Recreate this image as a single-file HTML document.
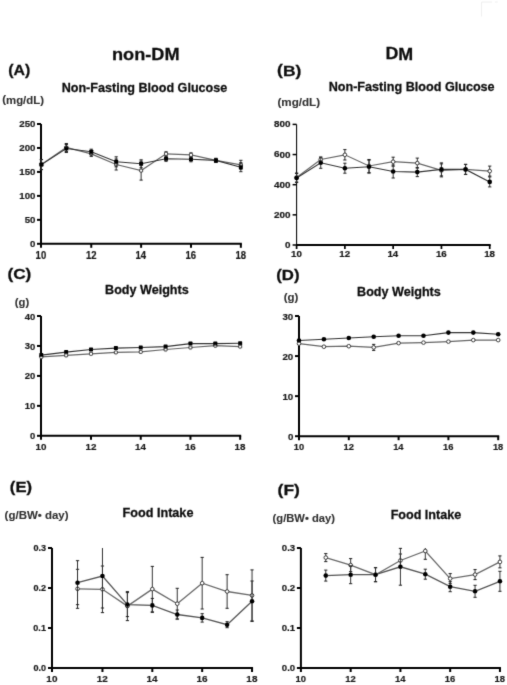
<!DOCTYPE html>
<html><head><meta charset="utf-8"><title>Figure</title>
<style>
html,body{margin:0;padding:0;background:#fff;}
body{width:507px;height:685px;overflow:hidden;}
svg{display:block;}
text{font-family:"Liberation Sans",Arial,sans-serif;}
</style></head><body>
<svg width="507" height="685" viewBox="0 0 507 685">
<defs><filter id="soft" filterUnits="userSpaceOnUse" x="0" y="0" width="507" height="685"><feConvolveMatrix order="3" kernelMatrix="0.01134 0.08382 0.01134 0.08382 0.61935 0.08382 0.01134 0.08382 0.01134" edgeMode="none"/></filter></defs>
<rect width="507" height="685" fill="#fff"/>
<g filter="url(#soft)">
<text transform="rotate(0.02 112.00 60.00)" x="112.00" y="60.00" font-size="17.30" font-weight="bold" fill="#111" stroke="#111" stroke-width="0.3" textLength="67.61" lengthAdjust="spacingAndGlyphs" >non-DM</text>
<text transform="rotate(0.02 385.40 59.50)" x="385.40" y="59.50" font-size="17.00" font-weight="bold" fill="#111" stroke="#111" stroke-width="0.3" textLength="27.80" lengthAdjust="spacingAndGlyphs" >DM</text>
<text transform="rotate(0.02 8.30 75.00)" x="8.30" y="75.00" font-size="15.30" font-weight="bold" fill="#111" stroke="#111" stroke-width="0.3" textLength="22.09" lengthAdjust="spacingAndGlyphs" >(A)</text>
<text transform="rotate(0.02 277.13 75.50)" x="277.13" y="75.50" font-size="15.30" font-weight="bold" fill="#111" stroke="#111" stroke-width="0.3" textLength="24.25" lengthAdjust="spacingAndGlyphs" >(B)</text>
<text transform="rotate(0.02 7.44 279.00)" x="7.44" y="279.00" font-size="15.30" font-weight="bold" fill="#111" stroke="#111" stroke-width="0.3" textLength="23.93" lengthAdjust="spacingAndGlyphs" >(C)</text>
<text transform="rotate(0.02 276.26 279.50)" x="276.26" y="279.50" font-size="15.30" font-weight="bold" fill="#111" stroke="#111" stroke-width="0.3" textLength="23.28" lengthAdjust="spacingAndGlyphs" >(D)</text>
<text transform="rotate(0.02 9.87 492.00)" x="9.87" y="492.00" font-size="15.30" font-weight="bold" fill="#111" stroke="#111" stroke-width="0.3" textLength="22.16" lengthAdjust="spacingAndGlyphs" >(E)</text>
<text transform="rotate(0.02 277.63 495.00)" x="277.63" y="495.00" font-size="15.30" font-weight="bold" fill="#111" stroke="#111" stroke-width="0.3" textLength="22.24" lengthAdjust="spacingAndGlyphs" >(F)</text>
<text transform="rotate(0.02 61.66 92.20)" x="61.66" y="92.20" font-size="13.00" font-weight="bold" fill="#111" stroke="#111" stroke-width="0.3" textLength="165.58" lengthAdjust="spacingAndGlyphs" >Non-Fasting Blood Glucose</text>
<text transform="rotate(0.02 328.66 91.20)" x="328.66" y="91.20" font-size="13.00" font-weight="bold" fill="#111" stroke="#111" stroke-width="0.3" textLength="165.98" lengthAdjust="spacingAndGlyphs" >Non-Fasting Blood Glucose</text>
<text transform="rotate(0.02 105.06 293.80)" x="105.06" y="293.80" font-size="13.00" font-weight="bold" fill="#111" stroke="#111" stroke-width="0.3" textLength="83.66" lengthAdjust="spacingAndGlyphs" >Body Weights</text>
<text transform="rotate(0.02 357.06 296.20)" x="357.06" y="296.20" font-size="13.00" font-weight="bold" fill="#111" stroke="#111" stroke-width="0.3" textLength="83.77" lengthAdjust="spacingAndGlyphs" >Body Weights</text>
<text transform="rotate(0.02 122.55 517.10)" x="122.55" y="517.10" font-size="12.70" font-weight="bold" fill="#111" stroke="#111" stroke-width="0.3" textLength="70.88" lengthAdjust="spacingAndGlyphs" >Food Intake</text>
<text transform="rotate(0.02 390.66 518.60)" x="390.66" y="518.60" font-size="12.70" font-weight="bold" fill="#111" stroke="#111" stroke-width="0.3" textLength="70.57" lengthAdjust="spacingAndGlyphs" >Food Intake</text>
<text transform="rotate(0.02 2.23 103.50)" x="2.23" y="103.50" font-size="11.50" font-weight="bold" fill="#333" stroke="#333" stroke-width="0.1" textLength="41.73" lengthAdjust="spacingAndGlyphs" >(mg/dL)</text>
<text transform="rotate(0.02 277.42 106.00)" x="277.42" y="106.00" font-size="11.00" font-weight="bold" fill="#333" stroke="#333" stroke-width="0.1" textLength="42.66" lengthAdjust="spacingAndGlyphs" >(mg/dL)</text>
<text transform="rotate(0.02 14.84 306.00)" x="14.84" y="306.00" font-size="11.30" font-weight="bold" fill="#333" stroke="#333" stroke-width="0.1" textLength="14.43" lengthAdjust="spacingAndGlyphs" >(g)</text>
<text transform="rotate(0.02 283.73 301.00)" x="283.73" y="301.00" font-size="10.80" font-weight="bold" fill="#333" stroke="#333" stroke-width="0.1" textLength="14.65" lengthAdjust="spacingAndGlyphs" >(g)</text>
<text transform="rotate(0.02 4.63 519.20)" x="4.63" y="519.20" font-size="10.40" font-weight="bold" fill="#333" stroke="#333" stroke-width="0.1" textLength="63.95" lengthAdjust="spacingAndGlyphs" >(g/BW• day)</text>
<text transform="rotate(0.02 272.64 521.90)" x="272.64" y="521.90" font-size="10.40" font-weight="bold" fill="#333" stroke="#333" stroke-width="0.1" textLength="62.32" lengthAdjust="spacingAndGlyphs" >(g/BW• day)</text>
<line x1="41.0" y1="124.0" x2="41.0" y2="243.8" stroke="#000" stroke-width="2"/>
<line x1="40.0" y1="243.8" x2="241.84" y2="243.8" stroke="#000" stroke-width="2"/>
<line x1="37.0" y1="243.8" x2="41.0" y2="243.8" stroke="#000" stroke-width="2"/>
<line x1="37.0" y1="219.84" x2="41.0" y2="219.84" stroke="#000" stroke-width="2"/>
<line x1="37.0" y1="195.88" x2="41.0" y2="195.88" stroke="#000" stroke-width="2"/>
<line x1="37.0" y1="171.92000000000002" x2="41.0" y2="171.92000000000002" stroke="#000" stroke-width="2"/>
<line x1="37.0" y1="147.95999999999998" x2="41.0" y2="147.95999999999998" stroke="#000" stroke-width="2"/>
<line x1="37.0" y1="124.0" x2="41.0" y2="124.0" stroke="#000" stroke-width="2"/>
<line x1="41.0" y1="243.8" x2="41.0" y2="247.8" stroke="#000" stroke-width="2"/>
<line x1="91.25999999999999" y1="243.8" x2="91.25999999999999" y2="247.8" stroke="#000" stroke-width="2"/>
<line x1="141.12" y1="243.8" x2="141.12" y2="247.8" stroke="#000" stroke-width="2"/>
<line x1="190.98" y1="243.8" x2="190.98" y2="247.8" stroke="#000" stroke-width="2"/>
<line x1="240.84" y1="243.8" x2="240.84" y2="247.8" stroke="#000" stroke-width="2"/>
<text transform="rotate(0.02 30.03 247.25)" x="30.03" y="247.25" font-size="9.60" font-weight="bold" fill="#1a1a1a" stroke="#1a1a1a" stroke-width="0.2" textLength="5.37" lengthAdjust="spacingAndGlyphs" >0</text>
<text transform="rotate(0.02 24.66 223.29)" x="24.66" y="223.29" font-size="9.60" font-weight="bold" fill="#1a1a1a" stroke="#1a1a1a" stroke-width="0.2" textLength="10.74" lengthAdjust="spacingAndGlyphs" >50</text>
<text transform="rotate(0.02 19.29 199.33)" x="19.29" y="199.33" font-size="9.60" font-weight="bold" fill="#1a1a1a" stroke="#1a1a1a" stroke-width="0.2" textLength="16.11" lengthAdjust="spacingAndGlyphs" >100</text>
<text transform="rotate(0.02 19.29 175.37)" x="19.29" y="175.37" font-size="9.60" font-weight="bold" fill="#1a1a1a" stroke="#1a1a1a" stroke-width="0.2" textLength="16.11" lengthAdjust="spacingAndGlyphs" >150</text>
<text transform="rotate(0.02 19.29 151.41)" x="19.29" y="151.41" font-size="9.60" font-weight="bold" fill="#1a1a1a" stroke="#1a1a1a" stroke-width="0.2" textLength="16.11" lengthAdjust="spacingAndGlyphs" >200</text>
<text transform="rotate(0.02 19.29 127.45)" x="19.29" y="127.45" font-size="9.60" font-weight="bold" fill="#1a1a1a" stroke="#1a1a1a" stroke-width="0.2" textLength="16.11" lengthAdjust="spacingAndGlyphs" >250</text>
<text transform="rotate(0.02 35.62 258.60)" x="35.62" y="258.60" font-size="10.00" font-weight="bold" fill="#1a1a1a" stroke="#1a1a1a" stroke-width="0.2" textLength="10.54" lengthAdjust="spacingAndGlyphs" >10</text>
<text transform="rotate(0.02 85.88 258.60)" x="85.88" y="258.60" font-size="10.00" font-weight="bold" fill="#1a1a1a" stroke="#1a1a1a" stroke-width="0.2" textLength="10.54" lengthAdjust="spacingAndGlyphs" >12</text>
<text transform="rotate(0.02 135.57 258.60)" x="135.57" y="258.60" font-size="10.00" font-weight="bold" fill="#1a1a1a" stroke="#1a1a1a" stroke-width="0.2" textLength="10.54" lengthAdjust="spacingAndGlyphs" >14</text>
<text transform="rotate(0.02 185.58 258.60)" x="185.58" y="258.60" font-size="10.00" font-weight="bold" fill="#1a1a1a" stroke="#1a1a1a" stroke-width="0.2" textLength="10.54" lengthAdjust="spacingAndGlyphs" >16</text>
<text transform="rotate(0.02 235.42 258.60)" x="235.42" y="258.60" font-size="10.00" font-weight="bold" fill="#1a1a1a" stroke="#1a1a1a" stroke-width="0.2" textLength="10.54" lengthAdjust="spacingAndGlyphs" >18</text>
<polyline points="41.40,164.60 66.33,147.50 91.26,153.90 116.19,164.50 141.12,170.60 166.05,153.80 190.98,154.90 215.91,160.40 240.84,164.80" fill="none" stroke="#666" stroke-width="1.2"/>
<line x1="41.40" y1="159.60" x2="41.40" y2="169.60" stroke="#333" stroke-width="1"/>
<line x1="39.80" y1="159.60" x2="43.00" y2="159.60" stroke="#222" stroke-width="1"/>
<line x1="39.80" y1="169.60" x2="43.00" y2="169.60" stroke="#222" stroke-width="1"/>
<line x1="66.33" y1="143.50" x2="66.33" y2="151.50" stroke="#333" stroke-width="1"/>
<line x1="64.73" y1="143.50" x2="67.93" y2="143.50" stroke="#222" stroke-width="1"/>
<line x1="64.73" y1="151.50" x2="67.93" y2="151.50" stroke="#222" stroke-width="1"/>
<line x1="91.26" y1="151.40" x2="91.26" y2="156.40" stroke="#333" stroke-width="1"/>
<line x1="89.66" y1="151.40" x2="92.86" y2="151.40" stroke="#222" stroke-width="1"/>
<line x1="89.66" y1="156.40" x2="92.86" y2="156.40" stroke="#222" stroke-width="1"/>
<line x1="116.19" y1="159.00" x2="116.19" y2="170.00" stroke="#333" stroke-width="1"/>
<line x1="114.59" y1="159.00" x2="117.79" y2="159.00" stroke="#222" stroke-width="1"/>
<line x1="114.59" y1="170.00" x2="117.79" y2="170.00" stroke="#222" stroke-width="1"/>
<line x1="141.12" y1="161.10" x2="141.12" y2="180.10" stroke="#333" stroke-width="1"/>
<line x1="139.52" y1="161.10" x2="142.72" y2="161.10" stroke="#222" stroke-width="1"/>
<line x1="139.52" y1="180.10" x2="142.72" y2="180.10" stroke="#222" stroke-width="1"/>
<line x1="166.05" y1="151.80" x2="166.05" y2="155.80" stroke="#333" stroke-width="1"/>
<line x1="164.45" y1="151.80" x2="167.65" y2="151.80" stroke="#222" stroke-width="1"/>
<line x1="164.45" y1="155.80" x2="167.65" y2="155.80" stroke="#222" stroke-width="1"/>
<line x1="190.98" y1="152.90" x2="190.98" y2="156.90" stroke="#333" stroke-width="1"/>
<line x1="189.38" y1="152.90" x2="192.58" y2="152.90" stroke="#222" stroke-width="1"/>
<line x1="189.38" y1="156.90" x2="192.58" y2="156.90" stroke="#222" stroke-width="1"/>
<line x1="215.91" y1="158.40" x2="215.91" y2="162.40" stroke="#333" stroke-width="1"/>
<line x1="214.31" y1="158.40" x2="217.51" y2="158.40" stroke="#222" stroke-width="1"/>
<line x1="214.31" y1="162.40" x2="217.51" y2="162.40" stroke="#222" stroke-width="1"/>
<line x1="240.84" y1="160.30" x2="240.84" y2="169.30" stroke="#333" stroke-width="1"/>
<line x1="239.24" y1="160.30" x2="242.44" y2="160.30" stroke="#222" stroke-width="1"/>
<line x1="239.24" y1="169.30" x2="242.44" y2="169.30" stroke="#222" stroke-width="1"/>
<rect x="39.90" y="163.10" width="3.0" height="3.0" rx="0.6" fill="#fff" stroke="#222" stroke-width="1"/>
<rect x="64.83" y="146.00" width="3.0" height="3.0" rx="0.6" fill="#fff" stroke="#222" stroke-width="1"/>
<rect x="89.76" y="152.40" width="3.0" height="3.0" rx="0.6" fill="#fff" stroke="#222" stroke-width="1"/>
<rect x="114.69" y="163.00" width="3.0" height="3.0" rx="0.6" fill="#fff" stroke="#222" stroke-width="1"/>
<rect x="139.62" y="169.10" width="3.0" height="3.0" rx="0.6" fill="#fff" stroke="#222" stroke-width="1"/>
<rect x="164.55" y="152.30" width="3.0" height="3.0" rx="0.6" fill="#fff" stroke="#222" stroke-width="1"/>
<rect x="189.48" y="153.40" width="3.0" height="3.0" rx="0.6" fill="#fff" stroke="#222" stroke-width="1"/>
<rect x="214.41" y="158.90" width="3.0" height="3.0" rx="0.6" fill="#fff" stroke="#222" stroke-width="1"/>
<rect x="239.34" y="163.30" width="3.0" height="3.0" rx="0.6" fill="#fff" stroke="#222" stroke-width="1"/>
<polyline points="41.40,164.60 66.33,148.50 91.26,151.70 116.19,161.80 141.12,163.80 166.05,158.80 190.98,159.30 215.91,160.40 240.84,167.20" fill="none" stroke="#333" stroke-width="1.1"/>
<line x1="41.40" y1="159.60" x2="41.40" y2="169.60" stroke="#333" stroke-width="1"/>
<line x1="39.80" y1="159.60" x2="43.00" y2="159.60" stroke="#222" stroke-width="1"/>
<line x1="39.80" y1="169.60" x2="43.00" y2="169.60" stroke="#222" stroke-width="1"/>
<line x1="66.33" y1="144.50" x2="66.33" y2="152.50" stroke="#333" stroke-width="1"/>
<line x1="64.73" y1="144.50" x2="67.93" y2="144.50" stroke="#222" stroke-width="1"/>
<line x1="64.73" y1="152.50" x2="67.93" y2="152.50" stroke="#222" stroke-width="1"/>
<line x1="91.26" y1="149.20" x2="91.26" y2="154.20" stroke="#333" stroke-width="1"/>
<line x1="89.66" y1="149.20" x2="92.86" y2="149.20" stroke="#222" stroke-width="1"/>
<line x1="89.66" y1="154.20" x2="92.86" y2="154.20" stroke="#222" stroke-width="1"/>
<line x1="116.19" y1="156.80" x2="116.19" y2="166.80" stroke="#333" stroke-width="1"/>
<line x1="114.59" y1="156.80" x2="117.79" y2="156.80" stroke="#222" stroke-width="1"/>
<line x1="114.59" y1="166.80" x2="117.79" y2="166.80" stroke="#222" stroke-width="1"/>
<line x1="141.12" y1="159.80" x2="141.12" y2="167.80" stroke="#333" stroke-width="1"/>
<line x1="139.52" y1="159.80" x2="142.72" y2="159.80" stroke="#222" stroke-width="1"/>
<line x1="139.52" y1="167.80" x2="142.72" y2="167.80" stroke="#222" stroke-width="1"/>
<line x1="166.05" y1="156.30" x2="166.05" y2="161.30" stroke="#333" stroke-width="1"/>
<line x1="164.45" y1="156.30" x2="167.65" y2="156.30" stroke="#222" stroke-width="1"/>
<line x1="164.45" y1="161.30" x2="167.65" y2="161.30" stroke="#222" stroke-width="1"/>
<line x1="190.98" y1="156.80" x2="190.98" y2="161.80" stroke="#333" stroke-width="1"/>
<line x1="189.38" y1="156.80" x2="192.58" y2="156.80" stroke="#222" stroke-width="1"/>
<line x1="189.38" y1="161.80" x2="192.58" y2="161.80" stroke="#222" stroke-width="1"/>
<line x1="215.91" y1="158.40" x2="215.91" y2="162.40" stroke="#333" stroke-width="1"/>
<line x1="214.31" y1="158.40" x2="217.51" y2="158.40" stroke="#222" stroke-width="1"/>
<line x1="214.31" y1="162.40" x2="217.51" y2="162.40" stroke="#222" stroke-width="1"/>
<line x1="240.84" y1="162.70" x2="240.84" y2="171.70" stroke="#333" stroke-width="1"/>
<line x1="239.24" y1="162.70" x2="242.44" y2="162.70" stroke="#222" stroke-width="1"/>
<line x1="239.24" y1="171.70" x2="242.44" y2="171.70" stroke="#222" stroke-width="1"/>
<rect x="39.40" y="162.60" width="4.0" height="4.0" rx="0.6" fill="#000"/>
<rect x="64.33" y="146.50" width="4.0" height="4.0" rx="0.6" fill="#000"/>
<rect x="89.26" y="149.70" width="4.0" height="4.0" rx="0.6" fill="#000"/>
<rect x="114.19" y="159.80" width="4.0" height="4.0" rx="0.6" fill="#000"/>
<rect x="139.12" y="161.80" width="4.0" height="4.0" rx="0.6" fill="#000"/>
<rect x="164.05" y="156.80" width="4.0" height="4.0" rx="0.6" fill="#000"/>
<rect x="188.98" y="157.30" width="4.0" height="4.0" rx="0.6" fill="#000"/>
<rect x="213.91" y="158.40" width="4.0" height="4.0" rx="0.6" fill="#000"/>
<rect x="238.84" y="165.20" width="4.0" height="4.0" rx="0.6" fill="#000"/>
<line x1="296.6" y1="124.4" x2="296.6" y2="245.0" stroke="#000" stroke-width="1.05"/>
<line x1="296.07500000000005" y1="245.0" x2="490.72" y2="245.0" stroke="#000" stroke-width="2"/>
<line x1="292.6" y1="245.0" x2="296.6" y2="245.0" stroke="#000" stroke-width="1.5"/>
<line x1="292.6" y1="214.85" x2="296.6" y2="214.85" stroke="#000" stroke-width="1.5"/>
<line x1="292.6" y1="184.7" x2="296.6" y2="184.7" stroke="#000" stroke-width="1.5"/>
<line x1="292.6" y1="154.55" x2="296.6" y2="154.55" stroke="#000" stroke-width="1.5"/>
<line x1="292.6" y1="124.4" x2="296.6" y2="124.4" stroke="#000" stroke-width="1.5"/>
<line x1="296.6" y1="245.0" x2="296.6" y2="249.0" stroke="#000" stroke-width="1.7"/>
<line x1="344.88" y1="245.0" x2="344.88" y2="249.0" stroke="#000" stroke-width="1.7"/>
<line x1="393.16" y1="245.0" x2="393.16" y2="249.0" stroke="#000" stroke-width="1.7"/>
<line x1="441.44000000000005" y1="245.0" x2="441.44000000000005" y2="249.0" stroke="#000" stroke-width="1.7"/>
<line x1="489.72" y1="245.0" x2="489.72" y2="249.0" stroke="#000" stroke-width="1.7"/>
<text transform="rotate(0.02 285.03 247.96)" x="285.03" y="247.96" font-size="8.20" font-weight="bold" fill="#1a1a1a" stroke="#1a1a1a" stroke-width="0.2" textLength="5.47" lengthAdjust="spacingAndGlyphs" >0</text>
<text transform="rotate(0.02 274.09 217.81)" x="274.09" y="217.81" font-size="8.20" font-weight="bold" fill="#1a1a1a" stroke="#1a1a1a" stroke-width="0.2" textLength="16.42" lengthAdjust="spacingAndGlyphs" >200</text>
<text transform="rotate(0.02 274.09 187.66)" x="274.09" y="187.66" font-size="8.20" font-weight="bold" fill="#1a1a1a" stroke="#1a1a1a" stroke-width="0.2" textLength="16.42" lengthAdjust="spacingAndGlyphs" >400</text>
<text transform="rotate(0.02 274.09 157.51)" x="274.09" y="157.51" font-size="8.20" font-weight="bold" fill="#1a1a1a" stroke="#1a1a1a" stroke-width="0.2" textLength="16.42" lengthAdjust="spacingAndGlyphs" >600</text>
<text transform="rotate(0.02 274.09 127.36)" x="274.09" y="127.36" font-size="8.20" font-weight="bold" fill="#1a1a1a" stroke="#1a1a1a" stroke-width="0.2" textLength="16.42" lengthAdjust="spacingAndGlyphs" >800</text>
<text transform="rotate(0.02 291.09 256.90)" x="291.09" y="256.90" font-size="8.60" font-weight="bold" fill="#1a1a1a" stroke="#1a1a1a" stroke-width="0.2" textLength="10.81" lengthAdjust="spacingAndGlyphs" >10</text>
<text transform="rotate(0.02 339.37 256.90)" x="339.37" y="256.90" font-size="8.60" font-weight="bold" fill="#1a1a1a" stroke="#1a1a1a" stroke-width="0.2" textLength="10.81" lengthAdjust="spacingAndGlyphs" >12</text>
<text transform="rotate(0.02 387.47 256.90)" x="387.47" y="256.90" font-size="8.60" font-weight="bold" fill="#1a1a1a" stroke="#1a1a1a" stroke-width="0.2" textLength="10.81" lengthAdjust="spacingAndGlyphs" >14</text>
<text transform="rotate(0.02 435.91 256.90)" x="435.91" y="256.90" font-size="8.60" font-weight="bold" fill="#1a1a1a" stroke="#1a1a1a" stroke-width="0.2" textLength="10.81" lengthAdjust="spacingAndGlyphs" >16</text>
<text transform="rotate(0.02 484.16 256.90)" x="484.16" y="256.90" font-size="8.60" font-weight="bold" fill="#1a1a1a" stroke="#1a1a1a" stroke-width="0.2" textLength="10.81" lengthAdjust="spacingAndGlyphs" >18</text>
<polyline points="296.60,177.50 320.74,159.50 344.88,154.80 369.02,166.00 393.16,161.70 417.30,163.10 441.44,170.40 465.58,169.40 489.72,171.10" fill="none" stroke="#666" stroke-width="1.2"/>
<line x1="296.60" y1="173.00" x2="296.60" y2="182.00" stroke="#333" stroke-width="1"/>
<line x1="295.00" y1="173.00" x2="298.20" y2="173.00" stroke="#222" stroke-width="1"/>
<line x1="295.00" y1="182.00" x2="298.20" y2="182.00" stroke="#222" stroke-width="1"/>
<line x1="320.74" y1="157.00" x2="320.74" y2="162.00" stroke="#333" stroke-width="1"/>
<line x1="319.14" y1="157.00" x2="322.34" y2="157.00" stroke="#222" stroke-width="1"/>
<line x1="319.14" y1="162.00" x2="322.34" y2="162.00" stroke="#222" stroke-width="1"/>
<line x1="344.88" y1="149.60" x2="344.88" y2="160.00" stroke="#333" stroke-width="1"/>
<line x1="343.28" y1="149.60" x2="346.48" y2="149.60" stroke="#222" stroke-width="1"/>
<line x1="343.28" y1="160.00" x2="346.48" y2="160.00" stroke="#222" stroke-width="1"/>
<line x1="369.02" y1="159.50" x2="369.02" y2="172.50" stroke="#333" stroke-width="1"/>
<line x1="367.42" y1="159.50" x2="370.62" y2="159.50" stroke="#222" stroke-width="1"/>
<line x1="367.42" y1="172.50" x2="370.62" y2="172.50" stroke="#222" stroke-width="1"/>
<line x1="393.16" y1="157.20" x2="393.16" y2="166.20" stroke="#333" stroke-width="1"/>
<line x1="391.56" y1="157.20" x2="394.76" y2="157.20" stroke="#222" stroke-width="1"/>
<line x1="391.56" y1="166.20" x2="394.76" y2="166.20" stroke="#222" stroke-width="1"/>
<line x1="417.30" y1="158.10" x2="417.30" y2="168.10" stroke="#333" stroke-width="1"/>
<line x1="415.70" y1="158.10" x2="418.90" y2="158.10" stroke="#222" stroke-width="1"/>
<line x1="415.70" y1="168.10" x2="418.90" y2="168.10" stroke="#222" stroke-width="1"/>
<line x1="441.44" y1="163.90" x2="441.44" y2="176.90" stroke="#333" stroke-width="1"/>
<line x1="439.84" y1="163.90" x2="443.04" y2="163.90" stroke="#222" stroke-width="1"/>
<line x1="439.84" y1="176.90" x2="443.04" y2="176.90" stroke="#222" stroke-width="1"/>
<line x1="465.58" y1="164.40" x2="465.58" y2="174.40" stroke="#333" stroke-width="1"/>
<line x1="463.98" y1="164.40" x2="467.18" y2="164.40" stroke="#222" stroke-width="1"/>
<line x1="463.98" y1="174.40" x2="467.18" y2="174.40" stroke="#222" stroke-width="1"/>
<line x1="489.72" y1="166.10" x2="489.72" y2="176.10" stroke="#333" stroke-width="1"/>
<line x1="488.12" y1="166.10" x2="491.32" y2="166.10" stroke="#222" stroke-width="1"/>
<line x1="488.12" y1="176.10" x2="491.32" y2="176.10" stroke="#222" stroke-width="1"/>
<circle cx="296.60" cy="177.50" r="1.7999999999999998" fill="#fff" stroke="#222" stroke-width="1"/>
<circle cx="320.74" cy="159.50" r="1.7999999999999998" fill="#fff" stroke="#222" stroke-width="1"/>
<circle cx="344.88" cy="154.80" r="1.7999999999999998" fill="#fff" stroke="#222" stroke-width="1"/>
<circle cx="369.02" cy="166.00" r="1.7999999999999998" fill="#fff" stroke="#222" stroke-width="1"/>
<circle cx="393.16" cy="161.70" r="1.7999999999999998" fill="#fff" stroke="#222" stroke-width="1"/>
<circle cx="417.30" cy="163.10" r="1.7999999999999998" fill="#fff" stroke="#222" stroke-width="1"/>
<circle cx="441.44" cy="170.40" r="1.7999999999999998" fill="#fff" stroke="#222" stroke-width="1"/>
<circle cx="465.58" cy="169.40" r="1.7999999999999998" fill="#fff" stroke="#222" stroke-width="1"/>
<circle cx="489.72" cy="171.10" r="1.7999999999999998" fill="#fff" stroke="#222" stroke-width="1"/>
<polyline points="296.60,178.00 320.74,162.80 344.88,168.20 369.02,166.70 393.16,171.50 417.30,172.10 441.44,169.40 465.58,169.40 489.72,181.90" fill="none" stroke="#333" stroke-width="1.1"/>
<line x1="296.60" y1="173.50" x2="296.60" y2="182.50" stroke="#333" stroke-width="1"/>
<line x1="295.00" y1="173.50" x2="298.20" y2="173.50" stroke="#222" stroke-width="1"/>
<line x1="295.00" y1="182.50" x2="298.20" y2="182.50" stroke="#222" stroke-width="1"/>
<line x1="320.74" y1="157.30" x2="320.74" y2="168.30" stroke="#333" stroke-width="1"/>
<line x1="319.14" y1="157.30" x2="322.34" y2="157.30" stroke="#222" stroke-width="1"/>
<line x1="319.14" y1="168.30" x2="322.34" y2="168.30" stroke="#222" stroke-width="1"/>
<line x1="344.88" y1="163.20" x2="344.88" y2="173.20" stroke="#333" stroke-width="1"/>
<line x1="343.28" y1="163.20" x2="346.48" y2="163.20" stroke="#222" stroke-width="1"/>
<line x1="343.28" y1="173.20" x2="346.48" y2="173.20" stroke="#222" stroke-width="1"/>
<line x1="369.02" y1="160.20" x2="369.02" y2="173.20" stroke="#333" stroke-width="1"/>
<line x1="367.42" y1="160.20" x2="370.62" y2="160.20" stroke="#222" stroke-width="1"/>
<line x1="367.42" y1="173.20" x2="370.62" y2="173.20" stroke="#222" stroke-width="1"/>
<line x1="393.16" y1="165.00" x2="393.16" y2="178.00" stroke="#333" stroke-width="1"/>
<line x1="391.56" y1="165.00" x2="394.76" y2="165.00" stroke="#222" stroke-width="1"/>
<line x1="391.56" y1="178.00" x2="394.76" y2="178.00" stroke="#222" stroke-width="1"/>
<line x1="417.30" y1="167.60" x2="417.30" y2="176.60" stroke="#333" stroke-width="1"/>
<line x1="415.70" y1="167.60" x2="418.90" y2="167.60" stroke="#222" stroke-width="1"/>
<line x1="415.70" y1="176.60" x2="418.90" y2="176.60" stroke="#222" stroke-width="1"/>
<line x1="441.44" y1="162.90" x2="441.44" y2="175.90" stroke="#333" stroke-width="1"/>
<line x1="439.84" y1="162.90" x2="443.04" y2="162.90" stroke="#222" stroke-width="1"/>
<line x1="439.84" y1="175.90" x2="443.04" y2="175.90" stroke="#222" stroke-width="1"/>
<line x1="465.58" y1="164.40" x2="465.58" y2="174.40" stroke="#333" stroke-width="1"/>
<line x1="463.98" y1="164.40" x2="467.18" y2="164.40" stroke="#222" stroke-width="1"/>
<line x1="463.98" y1="174.40" x2="467.18" y2="174.40" stroke="#222" stroke-width="1"/>
<line x1="489.72" y1="176.90" x2="489.72" y2="186.90" stroke="#333" stroke-width="1"/>
<line x1="488.12" y1="176.90" x2="491.32" y2="176.90" stroke="#222" stroke-width="1"/>
<line x1="488.12" y1="186.90" x2="491.32" y2="186.90" stroke="#222" stroke-width="1"/>
<circle cx="296.60" cy="178.00" r="2.3" fill="#000"/>
<circle cx="320.74" cy="162.80" r="2.3" fill="#000"/>
<circle cx="344.88" cy="168.20" r="2.3" fill="#000"/>
<circle cx="369.02" cy="166.70" r="2.3" fill="#000"/>
<circle cx="393.16" cy="171.50" r="2.3" fill="#000"/>
<circle cx="417.30" cy="172.10" r="2.3" fill="#000"/>
<circle cx="441.44" cy="169.40" r="2.3" fill="#000"/>
<circle cx="465.58" cy="169.40" r="2.3" fill="#000"/>
<circle cx="489.72" cy="181.90" r="2.3" fill="#000"/>
<line x1="41.0" y1="316.0" x2="41.0" y2="435.8" stroke="#000" stroke-width="2"/>
<line x1="40.0" y1="435.8" x2="241.18" y2="435.8" stroke="#000" stroke-width="2"/>
<line x1="37.0" y1="435.8" x2="41.0" y2="435.8" stroke="#000" stroke-width="2"/>
<line x1="37.0" y1="405.85" x2="41.0" y2="405.85" stroke="#000" stroke-width="2"/>
<line x1="37.0" y1="375.90000000000003" x2="41.0" y2="375.90000000000003" stroke="#000" stroke-width="2"/>
<line x1="37.0" y1="345.95" x2="41.0" y2="345.95" stroke="#000" stroke-width="2"/>
<line x1="37.0" y1="316.0" x2="41.0" y2="316.0" stroke="#000" stroke-width="2"/>
<line x1="41.0" y1="435.8" x2="41.0" y2="439.8" stroke="#000" stroke-width="2"/>
<line x1="91.02" y1="435.8" x2="91.02" y2="439.8" stroke="#000" stroke-width="2"/>
<line x1="140.74" y1="435.8" x2="140.74" y2="439.8" stroke="#000" stroke-width="2"/>
<line x1="190.45999999999998" y1="435.8" x2="190.45999999999998" y2="439.8" stroke="#000" stroke-width="2"/>
<line x1="240.18" y1="435.8" x2="240.18" y2="439.8" stroke="#000" stroke-width="2"/>
<text transform="rotate(0.02 30.03 439.36)" x="30.03" y="439.36" font-size="9.90" font-weight="bold" fill="#1a1a1a" stroke="#1a1a1a" stroke-width="0.2" textLength="5.26" lengthAdjust="spacingAndGlyphs" >0</text>
<text transform="rotate(0.02 24.77 409.41)" x="24.77" y="409.41" font-size="9.90" font-weight="bold" fill="#1a1a1a" stroke="#1a1a1a" stroke-width="0.2" textLength="10.52" lengthAdjust="spacingAndGlyphs" >10</text>
<text transform="rotate(0.02 24.77 379.46)" x="24.77" y="379.46" font-size="9.90" font-weight="bold" fill="#1a1a1a" stroke="#1a1a1a" stroke-width="0.2" textLength="10.52" lengthAdjust="spacingAndGlyphs" >20</text>
<text transform="rotate(0.02 24.77 349.51)" x="24.77" y="349.51" font-size="9.90" font-weight="bold" fill="#1a1a1a" stroke="#1a1a1a" stroke-width="0.2" textLength="10.52" lengthAdjust="spacingAndGlyphs" >30</text>
<text transform="rotate(0.02 24.77 319.56)" x="24.77" y="319.56" font-size="9.90" font-weight="bold" fill="#1a1a1a" stroke="#1a1a1a" stroke-width="0.2" textLength="10.52" lengthAdjust="spacingAndGlyphs" >40</text>
<text transform="rotate(0.02 35.44 450.40)" x="35.44" y="450.40" font-size="9.80" font-weight="bold" fill="#1a1a1a" stroke="#1a1a1a" stroke-width="0.2" textLength="10.90" lengthAdjust="spacingAndGlyphs" >10</text>
<text transform="rotate(0.02 85.46 450.40)" x="85.46" y="450.40" font-size="9.80" font-weight="bold" fill="#1a1a1a" stroke="#1a1a1a" stroke-width="0.2" textLength="10.90" lengthAdjust="spacingAndGlyphs" >12</text>
<text transform="rotate(0.02 135.01 450.40)" x="135.01" y="450.40" font-size="9.80" font-weight="bold" fill="#1a1a1a" stroke="#1a1a1a" stroke-width="0.2" textLength="10.90" lengthAdjust="spacingAndGlyphs" >14</text>
<text transform="rotate(0.02 184.88 450.40)" x="184.88" y="450.40" font-size="9.80" font-weight="bold" fill="#1a1a1a" stroke="#1a1a1a" stroke-width="0.2" textLength="10.90" lengthAdjust="spacingAndGlyphs" >16</text>
<text transform="rotate(0.02 234.57 450.40)" x="234.57" y="450.40" font-size="9.80" font-weight="bold" fill="#1a1a1a" stroke="#1a1a1a" stroke-width="0.2" textLength="10.90" lengthAdjust="spacingAndGlyphs" >18</text>
<polyline points="41.30,356.90 66.16,355.40 91.02,353.80 115.88,352.40 140.74,351.90 165.60,349.50 190.46,347.50 215.32,345.70 240.18,346.60" fill="none" stroke="#666" stroke-width="1.2"/>
<rect x="39.80" y="355.40" width="3.0" height="3.0" rx="0.6" fill="#fff" stroke="#222" stroke-width="1"/>
<rect x="64.66" y="353.90" width="3.0" height="3.0" rx="0.6" fill="#fff" stroke="#222" stroke-width="1"/>
<rect x="89.52" y="352.30" width="3.0" height="3.0" rx="0.6" fill="#fff" stroke="#222" stroke-width="1"/>
<rect x="114.38" y="350.90" width="3.0" height="3.0" rx="0.6" fill="#fff" stroke="#222" stroke-width="1"/>
<rect x="139.24" y="350.40" width="3.0" height="3.0" rx="0.6" fill="#fff" stroke="#222" stroke-width="1"/>
<rect x="164.10" y="348.00" width="3.0" height="3.0" rx="0.6" fill="#fff" stroke="#222" stroke-width="1"/>
<rect x="188.96" y="346.00" width="3.0" height="3.0" rx="0.6" fill="#fff" stroke="#222" stroke-width="1"/>
<rect x="213.82" y="344.20" width="3.0" height="3.0" rx="0.6" fill="#fff" stroke="#222" stroke-width="1"/>
<rect x="238.68" y="345.10" width="3.0" height="3.0" rx="0.6" fill="#fff" stroke="#222" stroke-width="1"/>
<polyline points="41.30,355.10 66.16,352.10 91.02,349.50 115.88,348.10 140.74,347.50 165.60,346.60 190.46,343.60 215.32,343.60 240.18,343.30" fill="none" stroke="#333" stroke-width="1.1"/>
<rect x="39.30" y="353.10" width="4.0" height="4.0" rx="0.6" fill="#000"/>
<rect x="64.16" y="350.10" width="4.0" height="4.0" rx="0.6" fill="#000"/>
<rect x="89.02" y="347.50" width="4.0" height="4.0" rx="0.6" fill="#000"/>
<rect x="113.88" y="346.10" width="4.0" height="4.0" rx="0.6" fill="#000"/>
<rect x="138.74" y="345.50" width="4.0" height="4.0" rx="0.6" fill="#000"/>
<rect x="163.60" y="344.60" width="4.0" height="4.0" rx="0.6" fill="#000"/>
<rect x="188.46" y="341.60" width="4.0" height="4.0" rx="0.6" fill="#000"/>
<rect x="213.32" y="341.60" width="4.0" height="4.0" rx="0.6" fill="#000"/>
<rect x="238.18" y="341.30" width="4.0" height="4.0" rx="0.6" fill="#000"/>
<line x1="299.0" y1="316.0" x2="299.0" y2="436.2" stroke="#000" stroke-width="2"/>
<line x1="298.0" y1="436.2" x2="499.2" y2="436.2" stroke="#000" stroke-width="2"/>
<line x1="295.0" y1="436.2" x2="299.0" y2="436.2" stroke="#000" stroke-width="2"/>
<line x1="295.0" y1="396.1333333333333" x2="299.0" y2="396.1333333333333" stroke="#000" stroke-width="2"/>
<line x1="295.0" y1="356.06666666666666" x2="299.0" y2="356.06666666666666" stroke="#000" stroke-width="2"/>
<line x1="295.0" y1="316.0" x2="299.0" y2="316.0" stroke="#000" stroke-width="2"/>
<line x1="299.0" y1="436.2" x2="299.0" y2="440.2" stroke="#000" stroke-width="2"/>
<line x1="348.8" y1="436.2" x2="348.8" y2="440.2" stroke="#000" stroke-width="2"/>
<line x1="398.6" y1="436.2" x2="398.6" y2="440.2" stroke="#000" stroke-width="2"/>
<line x1="448.4" y1="436.2" x2="448.4" y2="440.2" stroke="#000" stroke-width="2"/>
<line x1="498.2" y1="436.2" x2="498.2" y2="440.2" stroke="#000" stroke-width="2"/>
<text transform="rotate(0.02 287.88 439.70)" x="287.88" y="439.70" font-size="9.75" font-weight="bold" fill="#1a1a1a" stroke="#1a1a1a" stroke-width="0.2" textLength="5.42" lengthAdjust="spacingAndGlyphs" >0</text>
<text transform="rotate(0.02 282.46 399.64)" x="282.46" y="399.64" font-size="9.75" font-weight="bold" fill="#1a1a1a" stroke="#1a1a1a" stroke-width="0.2" textLength="10.85" lengthAdjust="spacingAndGlyphs" >10</text>
<text transform="rotate(0.02 282.46 359.57)" x="282.46" y="359.57" font-size="9.75" font-weight="bold" fill="#1a1a1a" stroke="#1a1a1a" stroke-width="0.2" textLength="10.85" lengthAdjust="spacingAndGlyphs" >20</text>
<text transform="rotate(0.02 282.46 319.50)" x="282.46" y="319.50" font-size="9.75" font-weight="bold" fill="#1a1a1a" stroke="#1a1a1a" stroke-width="0.2" textLength="10.85" lengthAdjust="spacingAndGlyphs" >30</text>
<text transform="rotate(0.02 293.72 450.40)" x="293.72" y="450.40" font-size="9.90" font-weight="bold" fill="#1a1a1a" stroke="#1a1a1a" stroke-width="0.2" textLength="10.35" lengthAdjust="spacingAndGlyphs" >10</text>
<text transform="rotate(0.02 343.52 450.40)" x="343.52" y="450.40" font-size="9.90" font-weight="bold" fill="#1a1a1a" stroke="#1a1a1a" stroke-width="0.2" textLength="10.35" lengthAdjust="spacingAndGlyphs" >12</text>
<text transform="rotate(0.02 393.16 450.40)" x="393.16" y="450.40" font-size="9.90" font-weight="bold" fill="#1a1a1a" stroke="#1a1a1a" stroke-width="0.2" textLength="10.35" lengthAdjust="spacingAndGlyphs" >14</text>
<text transform="rotate(0.02 443.10 450.40)" x="443.10" y="450.40" font-size="9.90" font-weight="bold" fill="#1a1a1a" stroke="#1a1a1a" stroke-width="0.2" textLength="10.35" lengthAdjust="spacingAndGlyphs" >16</text>
<text transform="rotate(0.02 492.88 450.40)" x="492.88" y="450.40" font-size="9.90" font-weight="bold" fill="#1a1a1a" stroke="#1a1a1a" stroke-width="0.2" textLength="10.35" lengthAdjust="spacingAndGlyphs" >18</text>
<polyline points="299.00,343.60 323.90,346.70 348.80,346.20 373.70,347.40 398.60,343.10 423.50,342.60 448.40,341.60 473.30,340.10 498.20,340.10" fill="none" stroke="#666" stroke-width="1.2"/>
<line x1="373.70" y1="344.40" x2="373.70" y2="350.40" stroke="#333" stroke-width="1"/>
<line x1="372.10" y1="344.40" x2="375.30" y2="344.40" stroke="#222" stroke-width="1"/>
<line x1="372.10" y1="350.40" x2="375.30" y2="350.40" stroke="#222" stroke-width="1"/>
<circle cx="299.00" cy="343.60" r="1.7999999999999998" fill="#fff" stroke="#222" stroke-width="1"/>
<circle cx="323.90" cy="346.70" r="1.7999999999999998" fill="#fff" stroke="#222" stroke-width="1"/>
<circle cx="348.80" cy="346.20" r="1.7999999999999998" fill="#fff" stroke="#222" stroke-width="1"/>
<circle cx="373.70" cy="347.40" r="1.7999999999999998" fill="#fff" stroke="#222" stroke-width="1"/>
<circle cx="398.60" cy="343.10" r="1.7999999999999998" fill="#fff" stroke="#222" stroke-width="1"/>
<circle cx="423.50" cy="342.60" r="1.7999999999999998" fill="#fff" stroke="#222" stroke-width="1"/>
<circle cx="448.40" cy="341.60" r="1.7999999999999998" fill="#fff" stroke="#222" stroke-width="1"/>
<circle cx="473.30" cy="340.10" r="1.7999999999999998" fill="#fff" stroke="#222" stroke-width="1"/>
<circle cx="498.20" cy="340.10" r="1.7999999999999998" fill="#fff" stroke="#222" stroke-width="1"/>
<polyline points="299.00,340.50 323.90,339.20 348.80,338.00 373.70,336.70 398.60,335.80 423.50,335.80 448.40,332.60 473.30,332.60 498.20,334.30" fill="none" stroke="#333" stroke-width="1.1"/>
<circle cx="299.00" cy="340.50" r="2.3" fill="#000"/>
<circle cx="323.90" cy="339.20" r="2.3" fill="#000"/>
<circle cx="348.80" cy="338.00" r="2.3" fill="#000"/>
<circle cx="373.70" cy="336.70" r="2.3" fill="#000"/>
<circle cx="398.60" cy="335.80" r="2.3" fill="#000"/>
<circle cx="423.50" cy="335.80" r="2.3" fill="#000"/>
<circle cx="448.40" cy="332.60" r="2.3" fill="#000"/>
<circle cx="473.30" cy="332.60" r="2.3" fill="#000"/>
<circle cx="498.20" cy="334.30" r="2.3" fill="#000"/>
<line x1="52.0" y1="548.0" x2="52.0" y2="668.0" stroke="#000" stroke-width="2"/>
<line x1="51.0" y1="668.0" x2="253.04" y2="668.0" stroke="#000" stroke-width="2"/>
<line x1="48.0" y1="668.0" x2="52.0" y2="668.0" stroke="#000" stroke-width="2"/>
<line x1="48.0" y1="628.0" x2="52.0" y2="628.0" stroke="#000" stroke-width="2"/>
<line x1="48.0" y1="588.0" x2="52.0" y2="588.0" stroke="#000" stroke-width="2"/>
<line x1="48.0" y1="548.0" x2="52.0" y2="548.0" stroke="#000" stroke-width="2"/>
<line x1="52.0" y1="668.0" x2="52.0" y2="672.0" stroke="#000" stroke-width="2"/>
<line x1="102.46000000000001" y1="668.0" x2="102.46000000000001" y2="672.0" stroke="#000" stroke-width="2"/>
<line x1="152.32" y1="668.0" x2="152.32" y2="672.0" stroke="#000" stroke-width="2"/>
<line x1="202.17999999999998" y1="668.0" x2="202.17999999999998" y2="672.0" stroke="#000" stroke-width="2"/>
<line x1="252.04" y1="668.0" x2="252.04" y2="672.0" stroke="#000" stroke-width="2"/>
<text transform="rotate(0.02 33.46 671.45)" x="33.46" y="671.45" font-size="9.60" font-weight="bold" fill="#1a1a1a" stroke="#1a1a1a" stroke-width="0.2" textLength="12.61" lengthAdjust="spacingAndGlyphs" >0.0</text>
<text transform="rotate(0.02 33.34 631.45)" x="33.34" y="631.45" font-size="9.60" font-weight="bold" fill="#1a1a1a" stroke="#1a1a1a" stroke-width="0.2" textLength="12.61" lengthAdjust="spacingAndGlyphs" >0.1</text>
<text transform="rotate(0.02 33.45 591.45)" x="33.45" y="591.45" font-size="9.60" font-weight="bold" fill="#1a1a1a" stroke="#1a1a1a" stroke-width="0.2" textLength="12.61" lengthAdjust="spacingAndGlyphs" >0.2</text>
<text transform="rotate(0.02 33.42 551.45)" x="33.42" y="551.45" font-size="9.60" font-weight="bold" fill="#1a1a1a" stroke="#1a1a1a" stroke-width="0.2" textLength="12.61" lengthAdjust="spacingAndGlyphs" >0.3</text>
<text transform="rotate(0.02 46.39 682.40)" x="46.39" y="682.40" font-size="9.90" font-weight="bold" fill="#1a1a1a" stroke="#1a1a1a" stroke-width="0.2" textLength="11.01" lengthAdjust="spacingAndGlyphs" >10</text>
<text transform="rotate(0.02 96.84 682.40)" x="96.84" y="682.40" font-size="9.90" font-weight="bold" fill="#1a1a1a" stroke="#1a1a1a" stroke-width="0.2" textLength="11.01" lengthAdjust="spacingAndGlyphs" >12</text>
<text transform="rotate(0.02 146.53 682.40)" x="146.53" y="682.40" font-size="9.90" font-weight="bold" fill="#1a1a1a" stroke="#1a1a1a" stroke-width="0.2" textLength="11.01" lengthAdjust="spacingAndGlyphs" >14</text>
<text transform="rotate(0.02 196.54 682.40)" x="196.54" y="682.40" font-size="9.90" font-weight="bold" fill="#1a1a1a" stroke="#1a1a1a" stroke-width="0.2" textLength="11.01" lengthAdjust="spacingAndGlyphs" >16</text>
<text transform="rotate(0.02 246.38 682.40)" x="246.38" y="682.40" font-size="9.90" font-weight="bold" fill="#1a1a1a" stroke="#1a1a1a" stroke-width="0.2" textLength="11.01" lengthAdjust="spacingAndGlyphs" >18</text>
<polyline points="77.53,588.80 102.46,589.30 127.39,606.10 152.32,589.10 177.25,603.70 202.18,583.20 227.11,591.50 252.04,595.40" fill="none" stroke="#6a6a6a" stroke-width="1.3"/>
<line x1="77.53" y1="569.30" x2="77.53" y2="608.30" stroke="#333" stroke-width="1"/>
<line x1="75.93" y1="569.30" x2="79.13" y2="569.30" stroke="#222" stroke-width="1"/>
<line x1="75.93" y1="608.30" x2="79.13" y2="608.30" stroke="#222" stroke-width="1"/>
<line x1="102.46" y1="566.00" x2="102.46" y2="612.60" stroke="#333" stroke-width="1"/>
<line x1="100.86" y1="566.00" x2="104.06" y2="566.00" stroke="#222" stroke-width="1"/>
<line x1="100.86" y1="612.60" x2="104.06" y2="612.60" stroke="#222" stroke-width="1"/>
<line x1="127.39" y1="591.60" x2="127.39" y2="620.60" stroke="#333" stroke-width="1"/>
<line x1="125.79" y1="591.60" x2="128.99" y2="591.60" stroke="#222" stroke-width="1"/>
<line x1="125.79" y1="620.60" x2="128.99" y2="620.60" stroke="#222" stroke-width="1"/>
<line x1="152.32" y1="566.40" x2="152.32" y2="611.80" stroke="#333" stroke-width="1"/>
<line x1="150.72" y1="566.40" x2="153.92" y2="566.40" stroke="#222" stroke-width="1"/>
<line x1="150.72" y1="611.80" x2="153.92" y2="611.80" stroke="#222" stroke-width="1"/>
<line x1="177.25" y1="588.30" x2="177.25" y2="619.10" stroke="#333" stroke-width="1"/>
<line x1="175.65" y1="588.30" x2="178.85" y2="588.30" stroke="#222" stroke-width="1"/>
<line x1="175.65" y1="619.10" x2="178.85" y2="619.10" stroke="#222" stroke-width="1"/>
<line x1="202.18" y1="557.40" x2="202.18" y2="609.00" stroke="#333" stroke-width="1"/>
<line x1="200.58" y1="557.40" x2="203.78" y2="557.40" stroke="#222" stroke-width="1"/>
<line x1="200.58" y1="609.00" x2="203.78" y2="609.00" stroke="#222" stroke-width="1"/>
<line x1="227.11" y1="574.70" x2="227.11" y2="608.30" stroke="#333" stroke-width="1"/>
<line x1="225.51" y1="574.70" x2="228.71" y2="574.70" stroke="#222" stroke-width="1"/>
<line x1="225.51" y1="608.30" x2="228.71" y2="608.30" stroke="#222" stroke-width="1"/>
<line x1="252.04" y1="569.90" x2="252.04" y2="620.90" stroke="#333" stroke-width="1"/>
<line x1="250.44" y1="569.90" x2="253.64" y2="569.90" stroke="#222" stroke-width="1"/>
<line x1="250.44" y1="620.90" x2="253.64" y2="620.90" stroke="#222" stroke-width="1"/>
<circle cx="77.53" cy="588.80" r="1.7999999999999998" fill="#fff" stroke="#222" stroke-width="1"/>
<circle cx="102.46" cy="589.30" r="1.7999999999999998" fill="#fff" stroke="#222" stroke-width="1"/>
<circle cx="127.39" cy="606.10" r="1.7999999999999998" fill="#fff" stroke="#222" stroke-width="1"/>
<circle cx="152.32" cy="589.10" r="1.7999999999999998" fill="#fff" stroke="#222" stroke-width="1"/>
<circle cx="177.25" cy="603.70" r="1.7999999999999998" fill="#fff" stroke="#222" stroke-width="1"/>
<circle cx="202.18" cy="583.20" r="1.7999999999999998" fill="#fff" stroke="#222" stroke-width="1"/>
<circle cx="227.11" cy="591.50" r="1.7999999999999998" fill="#fff" stroke="#222" stroke-width="1"/>
<circle cx="252.04" cy="595.40" r="1.7999999999999998" fill="#fff" stroke="#222" stroke-width="1"/>
<polyline points="77.53,582.70 102.46,576.00 127.39,604.60 152.32,605.40 177.25,614.50 202.18,617.90 227.11,624.70 252.04,601.20" fill="none" stroke="#555" stroke-width="1.3"/>
<line x1="77.53" y1="560.70" x2="77.53" y2="604.70" stroke="#333" stroke-width="1"/>
<line x1="75.93" y1="560.70" x2="79.13" y2="560.70" stroke="#222" stroke-width="1"/>
<line x1="75.93" y1="604.70" x2="79.13" y2="604.70" stroke="#222" stroke-width="1"/>
<line x1="102.46" y1="548.00" x2="102.46" y2="608.00" stroke="#333" stroke-width="1"/>
<line x1="100.86" y1="608.00" x2="104.06" y2="608.00" stroke="#222" stroke-width="1"/>
<line x1="127.39" y1="592.60" x2="127.39" y2="616.60" stroke="#333" stroke-width="1"/>
<line x1="125.79" y1="592.60" x2="128.99" y2="592.60" stroke="#222" stroke-width="1"/>
<line x1="125.79" y1="616.60" x2="128.99" y2="616.60" stroke="#222" stroke-width="1"/>
<line x1="152.32" y1="598.40" x2="152.32" y2="612.40" stroke="#333" stroke-width="1"/>
<line x1="150.72" y1="598.40" x2="153.92" y2="598.40" stroke="#222" stroke-width="1"/>
<line x1="150.72" y1="612.40" x2="153.92" y2="612.40" stroke="#222" stroke-width="1"/>
<line x1="177.25" y1="610.00" x2="177.25" y2="619.00" stroke="#333" stroke-width="1"/>
<line x1="175.65" y1="610.00" x2="178.85" y2="610.00" stroke="#222" stroke-width="1"/>
<line x1="175.65" y1="619.00" x2="178.85" y2="619.00" stroke="#222" stroke-width="1"/>
<line x1="202.18" y1="613.70" x2="202.18" y2="622.10" stroke="#333" stroke-width="1"/>
<line x1="200.58" y1="613.70" x2="203.78" y2="613.70" stroke="#222" stroke-width="1"/>
<line x1="200.58" y1="622.10" x2="203.78" y2="622.10" stroke="#222" stroke-width="1"/>
<line x1="227.11" y1="621.70" x2="227.11" y2="627.70" stroke="#333" stroke-width="1"/>
<line x1="225.51" y1="621.70" x2="228.71" y2="621.70" stroke="#222" stroke-width="1"/>
<line x1="225.51" y1="627.70" x2="228.71" y2="627.70" stroke="#222" stroke-width="1"/>
<line x1="252.04" y1="581.00" x2="252.04" y2="621.40" stroke="#333" stroke-width="1"/>
<line x1="250.44" y1="581.00" x2="253.64" y2="581.00" stroke="#222" stroke-width="1"/>
<line x1="250.44" y1="621.40" x2="253.64" y2="621.40" stroke="#222" stroke-width="1"/>
<circle cx="77.53" cy="582.70" r="2.3" fill="#000"/>
<circle cx="102.46" cy="576.00" r="2.3" fill="#000"/>
<circle cx="127.39" cy="604.60" r="2.3" fill="#000"/>
<circle cx="152.32" cy="605.40" r="2.3" fill="#000"/>
<circle cx="177.25" cy="614.50" r="2.3" fill="#000"/>
<circle cx="202.18" cy="617.90" r="2.3" fill="#000"/>
<circle cx="227.11" cy="624.70" r="2.3" fill="#000"/>
<circle cx="252.04" cy="601.20" r="2.3" fill="#000"/>
<line x1="300.9" y1="548.0" x2="300.9" y2="668.0" stroke="#000" stroke-width="2"/>
<line x1="299.9" y1="668.0" x2="500.93999999999994" y2="668.0" stroke="#000" stroke-width="2"/>
<line x1="296.9" y1="668.0" x2="300.9" y2="668.0" stroke="#000" stroke-width="2"/>
<line x1="296.9" y1="628.0" x2="300.9" y2="628.0" stroke="#000" stroke-width="2"/>
<line x1="296.9" y1="588.0" x2="300.9" y2="588.0" stroke="#000" stroke-width="2"/>
<line x1="296.9" y1="548.0" x2="300.9" y2="548.0" stroke="#000" stroke-width="2"/>
<line x1="300.9" y1="668.0" x2="300.9" y2="672.0" stroke="#000" stroke-width="2"/>
<line x1="350.65999999999997" y1="668.0" x2="350.65999999999997" y2="672.0" stroke="#000" stroke-width="2"/>
<line x1="400.41999999999996" y1="668.0" x2="400.41999999999996" y2="672.0" stroke="#000" stroke-width="2"/>
<line x1="450.17999999999995" y1="668.0" x2="450.17999999999995" y2="672.0" stroke="#000" stroke-width="2"/>
<line x1="499.93999999999994" y1="668.0" x2="499.93999999999994" y2="672.0" stroke="#000" stroke-width="2"/>
<text transform="rotate(0.02 281.85 671.45)" x="281.85" y="671.45" font-size="9.60" font-weight="bold" fill="#1a1a1a" stroke="#1a1a1a" stroke-width="0.2" textLength="13.35" lengthAdjust="spacingAndGlyphs" >0.0</text>
<text transform="rotate(0.02 281.72 631.45)" x="281.72" y="631.45" font-size="9.60" font-weight="bold" fill="#1a1a1a" stroke="#1a1a1a" stroke-width="0.2" textLength="13.35" lengthAdjust="spacingAndGlyphs" >0.1</text>
<text transform="rotate(0.02 281.84 591.45)" x="281.84" y="591.45" font-size="9.60" font-weight="bold" fill="#1a1a1a" stroke="#1a1a1a" stroke-width="0.2" textLength="13.35" lengthAdjust="spacingAndGlyphs" >0.2</text>
<text transform="rotate(0.02 281.80 551.45)" x="281.80" y="551.45" font-size="9.60" font-weight="bold" fill="#1a1a1a" stroke="#1a1a1a" stroke-width="0.2" textLength="13.35" lengthAdjust="spacingAndGlyphs" >0.3</text>
<text transform="rotate(0.02 295.57 682.40)" x="295.57" y="682.40" font-size="9.90" font-weight="bold" fill="#1a1a1a" stroke="#1a1a1a" stroke-width="0.2" textLength="10.46" lengthAdjust="spacingAndGlyphs" >10</text>
<text transform="rotate(0.02 345.32 682.40)" x="345.32" y="682.40" font-size="9.90" font-weight="bold" fill="#1a1a1a" stroke="#1a1a1a" stroke-width="0.2" textLength="10.46" lengthAdjust="spacingAndGlyphs" >12</text>
<text transform="rotate(0.02 394.92 682.40)" x="394.92" y="682.40" font-size="9.90" font-weight="bold" fill="#1a1a1a" stroke="#1a1a1a" stroke-width="0.2" textLength="10.46" lengthAdjust="spacingAndGlyphs" >14</text>
<text transform="rotate(0.02 444.82 682.40)" x="444.82" y="682.40" font-size="9.90" font-weight="bold" fill="#1a1a1a" stroke="#1a1a1a" stroke-width="0.2" textLength="10.46" lengthAdjust="spacingAndGlyphs" >16</text>
<text transform="rotate(0.02 494.56 682.40)" x="494.56" y="682.40" font-size="9.90" font-weight="bold" fill="#1a1a1a" stroke="#1a1a1a" stroke-width="0.2" textLength="10.46" lengthAdjust="spacingAndGlyphs" >18</text>
<polyline points="325.78,557.60 350.66,565.10 375.54,574.70 400.42,560.50 425.30,551.00 450.18,578.60 475.06,574.60 499.94,561.90" fill="none" stroke="#6a6a6a" stroke-width="1.3"/>
<line x1="325.78" y1="553.60" x2="325.78" y2="561.60" stroke="#333" stroke-width="1"/>
<line x1="324.18" y1="553.60" x2="327.38" y2="553.60" stroke="#222" stroke-width="1"/>
<line x1="324.18" y1="561.60" x2="327.38" y2="561.60" stroke="#222" stroke-width="1"/>
<line x1="350.66" y1="558.60" x2="350.66" y2="571.60" stroke="#333" stroke-width="1"/>
<line x1="349.06" y1="558.60" x2="352.26" y2="558.60" stroke="#222" stroke-width="1"/>
<line x1="349.06" y1="571.60" x2="352.26" y2="571.60" stroke="#222" stroke-width="1"/>
<line x1="375.54" y1="567.70" x2="375.54" y2="581.70" stroke="#333" stroke-width="1"/>
<line x1="373.94" y1="567.70" x2="377.14" y2="567.70" stroke="#222" stroke-width="1"/>
<line x1="373.94" y1="581.70" x2="377.14" y2="581.70" stroke="#222" stroke-width="1"/>
<line x1="400.42" y1="554.00" x2="400.42" y2="567.00" stroke="#333" stroke-width="1"/>
<line x1="398.82" y1="554.00" x2="402.02" y2="554.00" stroke="#222" stroke-width="1"/>
<line x1="398.82" y1="567.00" x2="402.02" y2="567.00" stroke="#222" stroke-width="1"/>
<line x1="425.30" y1="548.00" x2="425.30" y2="559.30" stroke="#333" stroke-width="1"/>
<line x1="423.70" y1="559.30" x2="426.90" y2="559.30" stroke="#222" stroke-width="1"/>
<line x1="450.18" y1="573.60" x2="450.18" y2="583.60" stroke="#333" stroke-width="1"/>
<line x1="448.58" y1="573.60" x2="451.78" y2="573.60" stroke="#222" stroke-width="1"/>
<line x1="448.58" y1="583.60" x2="451.78" y2="583.60" stroke="#222" stroke-width="1"/>
<line x1="475.06" y1="569.60" x2="475.06" y2="579.60" stroke="#333" stroke-width="1"/>
<line x1="473.46" y1="569.60" x2="476.66" y2="569.60" stroke="#222" stroke-width="1"/>
<line x1="473.46" y1="579.60" x2="476.66" y2="579.60" stroke="#222" stroke-width="1"/>
<line x1="499.94" y1="555.90" x2="499.94" y2="567.90" stroke="#333" stroke-width="1"/>
<line x1="498.34" y1="555.90" x2="501.54" y2="555.90" stroke="#222" stroke-width="1"/>
<line x1="498.34" y1="567.90" x2="501.54" y2="567.90" stroke="#222" stroke-width="1"/>
<circle cx="325.78" cy="557.60" r="1.7999999999999998" fill="#fff" stroke="#222" stroke-width="1"/>
<circle cx="350.66" cy="565.10" r="1.7999999999999998" fill="#fff" stroke="#222" stroke-width="1"/>
<circle cx="375.54" cy="574.70" r="1.7999999999999998" fill="#fff" stroke="#222" stroke-width="1"/>
<circle cx="400.42" cy="560.50" r="1.7999999999999998" fill="#fff" stroke="#222" stroke-width="1"/>
<circle cx="425.30" cy="551.00" r="1.7999999999999998" fill="#fff" stroke="#222" stroke-width="1"/>
<circle cx="450.18" cy="578.60" r="1.7999999999999998" fill="#fff" stroke="#222" stroke-width="1"/>
<circle cx="475.06" cy="574.60" r="1.7999999999999998" fill="#fff" stroke="#222" stroke-width="1"/>
<circle cx="499.94" cy="561.90" r="1.7999999999999998" fill="#fff" stroke="#222" stroke-width="1"/>
<polyline points="325.78,575.60 350.66,574.70 375.54,574.70 400.42,566.80 425.30,574.20 450.18,586.70 475.06,591.30 499.94,581.30" fill="none" stroke="#555" stroke-width="1.3"/>
<line x1="325.78" y1="570.10" x2="325.78" y2="581.10" stroke="#333" stroke-width="1"/>
<line x1="324.18" y1="570.10" x2="327.38" y2="570.10" stroke="#222" stroke-width="1"/>
<line x1="324.18" y1="581.10" x2="327.38" y2="581.10" stroke="#222" stroke-width="1"/>
<line x1="350.66" y1="565.70" x2="350.66" y2="583.70" stroke="#333" stroke-width="1"/>
<line x1="349.06" y1="565.70" x2="352.26" y2="565.70" stroke="#222" stroke-width="1"/>
<line x1="349.06" y1="583.70" x2="352.26" y2="583.70" stroke="#222" stroke-width="1"/>
<line x1="375.54" y1="567.70" x2="375.54" y2="581.70" stroke="#333" stroke-width="1"/>
<line x1="373.94" y1="567.70" x2="377.14" y2="567.70" stroke="#222" stroke-width="1"/>
<line x1="373.94" y1="581.70" x2="377.14" y2="581.70" stroke="#222" stroke-width="1"/>
<line x1="400.42" y1="548.40" x2="400.42" y2="585.20" stroke="#333" stroke-width="1"/>
<line x1="398.82" y1="548.40" x2="402.02" y2="548.40" stroke="#222" stroke-width="1"/>
<line x1="398.82" y1="585.20" x2="402.02" y2="585.20" stroke="#222" stroke-width="1"/>
<line x1="425.30" y1="569.20" x2="425.30" y2="579.20" stroke="#333" stroke-width="1"/>
<line x1="423.70" y1="569.20" x2="426.90" y2="569.20" stroke="#222" stroke-width="1"/>
<line x1="423.70" y1="579.20" x2="426.90" y2="579.20" stroke="#222" stroke-width="1"/>
<line x1="450.18" y1="581.70" x2="450.18" y2="591.70" stroke="#333" stroke-width="1"/>
<line x1="448.58" y1="581.70" x2="451.78" y2="581.70" stroke="#222" stroke-width="1"/>
<line x1="448.58" y1="591.70" x2="451.78" y2="591.70" stroke="#222" stroke-width="1"/>
<line x1="475.06" y1="585.30" x2="475.06" y2="597.30" stroke="#333" stroke-width="1"/>
<line x1="473.46" y1="585.30" x2="476.66" y2="585.30" stroke="#222" stroke-width="1"/>
<line x1="473.46" y1="597.30" x2="476.66" y2="597.30" stroke="#222" stroke-width="1"/>
<line x1="499.94" y1="571.30" x2="499.94" y2="591.30" stroke="#333" stroke-width="1"/>
<line x1="498.34" y1="571.30" x2="501.54" y2="571.30" stroke="#222" stroke-width="1"/>
<line x1="498.34" y1="591.30" x2="501.54" y2="591.30" stroke="#222" stroke-width="1"/>
<circle cx="325.78" cy="575.60" r="2.3" fill="#000"/>
<circle cx="350.66" cy="574.70" r="2.3" fill="#000"/>
<circle cx="375.54" cy="574.70" r="2.3" fill="#000"/>
<circle cx="400.42" cy="566.80" r="2.3" fill="#000"/>
<circle cx="425.30" cy="574.20" r="2.3" fill="#000"/>
<circle cx="450.18" cy="586.70" r="2.3" fill="#000"/>
<circle cx="475.06" cy="591.30" r="2.3" fill="#000"/>
<circle cx="499.94" cy="581.30" r="2.3" fill="#000"/>
<path d="M481.6,16.5 V2 H492 M494.8,2 H497.7" fill="none" stroke="#eee" stroke-width="1"/>
</g>
</svg>
</body></html>
